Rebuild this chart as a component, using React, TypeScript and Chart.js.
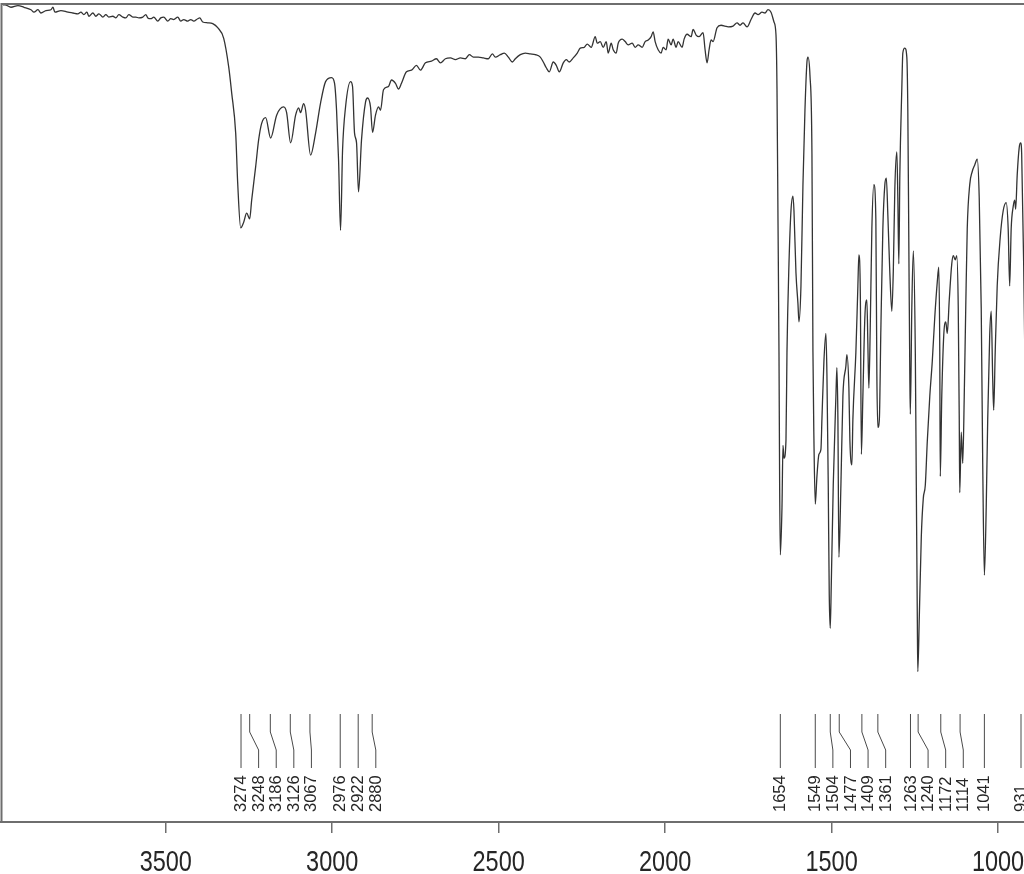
import { useEffect, useRef } from "react";
import { Chart, registerables } from "chart.js";

Chart.register(...registerables);

// Wavenumber (cm-1)
const WAVENUMBERS = [
  3989, 3983, 3965, 3944, 3926, 3905, 3896, 3884, 3875, 3860, 3845, 3839, 3833, 3815, 3794, 3779, 3764, 3755, 3746, 3737,
  3731, 3719, 3710, 3701, 3689, 3680, 3671, 3659, 3650, 3641, 3629, 3620, 3611, 3599, 3590, 3581, 3569, 3560, 3554, 3545,
  3536, 3524, 3515, 3506, 3494, 3485, 3476, 3464, 3455, 3446, 3434, 3425, 3416, 3404, 3398, 3389, 3374, 3359, 3344, 3326,
  3311, 3302, 3290, 3284, 3275, 3266, 3257, 3248, 3242, 3230, 3221, 3212, 3200, 3185, 3167, 3146, 3137, 3125, 3110, 3101,
  3095, 3086, 3080, 3065, 3050, 3035, 3020, 3002, 2993, 2987, 2981, 2975, 2969, 2960, 2945, 2939, 2933, 2927, 2921, 2912,
  2900, 2894, 2885, 2879, 2870, 2861, 2855, 2846, 2831, 2822, 2810, 2801, 2792, 2777, 2762, 2747, 2735, 2720, 2702, 2687,
  2675, 2660, 2645, 2630, 2615, 2600, 2588, 2576, 2561, 2546, 2531, 2519, 2510, 2495, 2483, 2471, 2459, 2450, 2435, 2420,
  2405, 2390, 2375, 2366, 2357, 2348, 2336, 2327, 2318, 2306, 2297, 2288, 2276, 2264, 2255, 2243, 2234, 2222, 2210, 2204,
  2195, 2186, 2177, 2171, 2162, 2156, 2147, 2141, 2129, 2120, 2111, 2099, 2090, 2081, 2069, 2060, 2051, 2042, 2036, 2030,
  2021, 2012, 2006, 1997, 1991, 1982, 1976, 1967, 1961, 1949, 1943, 1934, 1922, 1916, 1907, 1898, 1886, 1880, 1874, 1868,
  1862, 1856, 1844, 1832, 1820, 1811, 1796, 1784, 1775, 1766, 1754, 1742, 1730, 1721, 1709, 1700, 1691, 1682, 1673, 1667,
  1664, 1661, 1658, 1656, 1654, 1649, 1646, 1643, 1637, 1634, 1628, 1622, 1616, 1613, 1607, 1601, 1598, 1592, 1586, 1580,
  1574, 1571, 1565, 1559, 1556, 1553, 1549, 1544, 1538, 1532, 1529, 1523, 1517, 1514, 1510, 1507, 1504, 1501, 1495, 1487,
  1484, 1481, 1478, 1472, 1466, 1457, 1454, 1448, 1445, 1439, 1436, 1427, 1421, 1418, 1413.5, 1410.5, 1406, 1400, 1394, 1391,
  1388, 1384, 1379, 1373, 1367, 1364, 1361, 1356.5, 1352, 1346, 1340, 1335.5, 1331, 1325, 1319, 1314.5, 1310, 1304, 1301, 1298,
  1295, 1289, 1286, 1280, 1274, 1271, 1268, 1265, 1263.5, 1259, 1254.5, 1248.5, 1245.5, 1242.5, 1241, 1236.5, 1230.5, 1224.5, 1218.5, 1212.5,
  1205, 1197.5, 1190, 1182.5, 1178, 1175, 1173.5, 1169, 1163, 1157, 1152.5, 1146.5, 1139, 1134.5, 1128.5, 1124, 1119.5, 1116.5, 1115, 1110.5,
  1106, 1101.5, 1097, 1092.5, 1085, 1077.5, 1070, 1062.5, 1056.5, 1050.5, 1046, 1041, 1035.5, 1031, 1025, 1020.5, 1016, 1013, 1008.5, 1002.5,
  993.5, 984.5, 975.5, 969.5, 965, 960.5, 954.5, 950, 947, 942.5, 936.5, 932, 929, 923, 917
];

// Transmittance (%), same order as WAVENUMBERS
const TRANSMITTANCE = [
  100.0, 100.0, 99.7, 99.9, 99.7, 99.4, 99.1, 99.4, 99.0, 99.3, 99.4, 99.7, 99.1, 99.3, 99.1, 99.0, 98.9, 99.1, 98.8, 99.1,
  98.6, 99.0, 98.6, 98.9, 98.5, 98.8, 98.5, 98.6, 98.4, 98.8, 98.5, 98.4, 98.8, 98.5, 98.5, 98.4, 98.5, 98.8, 98.4, 98.3,
  98.5, 98.0, 98.4, 98.5, 98.0, 98.3, 98.2, 98.5, 98.0, 98.2, 98.0, 98.2, 98.0, 98.3, 98.4, 97.9, 97.8, 97.7, 97.2, 95.9,
  92.4, 89.2, 84.3, 78.2, 72.7, 73.4, 74.5, 73.8, 76.1, 80.2, 83.5, 85.5, 86.2, 83.7, 86.5, 87.5, 86.8, 83.1, 86.5, 87.4,
  86.8, 87.9, 87.1, 81.6, 84.3, 88.0, 90.6, 91.1, 90.4, 87.1, 81.0, 72.4, 82.2, 87.5, 90.6, 90.0, 84.3, 83.1, 77.1, 83.5,
  88.1, 88.6, 87.5, 84.4, 86.5, 87.5, 87.1, 89.6, 90.0, 90.8, 90.4, 89.7, 90.4, 91.8, 92.0, 92.6, 92.0, 92.9, 93.1, 93.4,
  92.9, 93.4, 93.5, 93.3, 93.5, 93.4, 93.9, 93.6, 93.6, 93.5, 93.4, 94.0, 93.6, 93.9, 94.1, 93.6, 93.0, 93.4, 93.9, 94.1,
  94.0, 93.9, 93.6, 93.0, 92.3, 91.8, 93.0, 92.6, 91.8, 92.9, 93.3, 93.0, 93.5, 94.1, 94.7, 94.8, 95.2, 94.8, 96.1, 95.3,
  95.5, 94.8, 95.5, 94.1, 95.3, 94.5, 94.1, 95.3, 95.8, 95.5, 95.1, 95.3, 94.8, 95.1, 94.8, 95.5, 95.7, 96.1, 96.7, 95.5,
  94.5, 94.1, 94.8, 94.5, 95.8, 95.1, 95.8, 94.8, 95.5, 94.8, 95.8, 96.4, 96.1, 97.0, 96.3, 96.1, 96.6, 94.5, 92.9, 94.5,
  95.7, 95.5, 97.2, 97.5, 97.4, 97.3, 97.4, 97.8, 97.5, 97.8, 97.3, 98.2, 99.0, 98.8, 99.1, 99.0, 99.4, 99.1, 97.9, 96.3,
  89.8, 73.7, 57.5, 41.2, 32.7, 38.5, 46.1, 44.5, 46.7, 57.5, 68.3, 74.8, 76.6, 74.8, 67.2, 63.4, 61.2, 65.6, 78.0, 87.1,
  93.0, 93.6, 91.4, 81.8, 57.5, 46.7, 38.9, 42.3, 45.0, 45.6, 49.3, 56.4, 59.8, 54.8, 41.2, 27.8, 23.7, 28.9, 41.2, 52.1,
  55.6, 49.3, 32.4, 41.2, 52.1, 55.8, 57.2, 53.1, 46.7, 43.7, 49.3, 57.5, 65.6, 69.4, 63.9, 45.0, 52.1, 61.8, 63.9, 58.5,
  53.1, 60.2, 72.6, 78.0, 73.7, 54.8, 48.3, 49.3, 60.2, 72.6, 78.0, 78.8, 74.3, 67.2, 62.5, 67.6, 77.5, 82.0, 76.4, 68.3,
  79.1, 89.8, 94.1, 94.7, 93.6, 87.1, 71.0, 54.8, 49.9, 62.9, 69.9, 57.5, 41.2, 25.1, 18.4, 25.1, 34.9, 39.6, 41.2, 46.6,
  52.1, 56.4, 61.8, 66.1, 67.9, 57.5, 42.3, 52.1, 59.6, 61.2, 59.8, 63.9, 68.3, 69.3, 68.8, 69.3, 62.9, 49.3, 40.3, 47.7,
  43.9, 52.1, 62.9, 72.6, 78.0, 79.6, 80.4, 81.1, 76.4, 62.9, 43.9, 30.2, 38.5, 49.3, 59.6, 62.5, 54.2, 50.4, 57.5, 65.6,
  71.5, 74.8, 75.8, 72.6, 65.6, 72.6, 75.3, 76.1, 75.0, 79.1, 82.5, 83.1, 81.8, 68.3, 49.2
];

// Peak annotations (cm-1)
const PEAK_LABELS = [
  3274, 3248, 3186, 3126, 3067, 2976, 2922, 2880,
  1654, 1549, 1504, 1477, 1409, 1361, 1263, 1240, 1172, 1114, 1041, 931
];

const X_TICKS = [3500, 3000, 2500, 2000, 1500, 1000];
const X_MIN = 922;
const X_MAX = 3995;

const FRAME_COLOR = "#6e6e6e";
const TEXT_COLOR = "#262626";

export default function App() {
  const canvasRef = useRef<HTMLCanvasElement | null>(null);

  useEffect(() => {
    document.body.style.margin = "0";
    document.body.style.overflow = "hidden";
    const canvas = canvasRef.current;
    if (!canvas) return;

    const peakPlugin = {
      id: "peakAnnotations",
      afterDraw(chart: any) {
        const { ctx, chartArea, scales } = chart;
        const xs = scales.x;
        ctx.save();

        // frame: left and top edges
        ctx.strokeStyle = FRAME_COLOR;
        ctx.lineWidth = 2;
        ctx.beginPath();
        ctx.moveTo(chartArea.left + 0.5, chartArea.bottom);
        ctx.lineTo(chartArea.left + 0.5, chartArea.top);
        ctx.lineTo(chartArea.right, chartArea.top);
        ctx.stroke();

        const b = chartArea.bottom;

        // x tick labels in a condensed face (tall, narrow digits)
        ctx.fillStyle = TEXT_COLOR;
        ctx.font = "29px 'Liberation Sans', Arial, sans-serif";
        ctx.textAlign = "center";
        ctx.textBaseline = "alphabetic";
        for (const t of xs.ticks) {
          const x = xs.getPixelForValue(t.value);
          ctx.save();
          ctx.translate(x, b + 49);
          ctx.scale(0.81, 1);
          ctx.fillText(String(t.value), 0, 0);
          ctx.restore();
        }

        // peak label layout
        const gap = 17.6;
        const items = PEAK_LABELS.map((v) => ({ v, px: xs.getPixelForValue(v) }))
          .sort((a, c) => a.px - c.px);
        let prev = -Infinity;
        const placed = items.map((it) => {
          const lx = Math.max(it.px, prev + gap);
          prev = lx;
          return { ...it, lx };
        });

        const yTop = b - 108;
        const yBend1 = b - 90;
        const yBend2 = b - 72;
        const yEnd = b - 54;
        const yText = b - 10;

        ctx.strokeStyle = "#4a4a4a";
        ctx.lineWidth = 1;
        for (const p of placed) {
          ctx.beginPath();
          ctx.moveTo(p.px, yTop);
          if (Math.abs(p.lx - p.px) > 0.5) {
            ctx.lineTo(p.px, yBend1);
            ctx.lineTo(p.lx, yBend2);
          }
          ctx.lineTo(p.lx, yEnd);
          ctx.stroke();
        }

        ctx.fillStyle = TEXT_COLOR;
        ctx.font = "16.5px 'Liberation Sans', Arial, sans-serif";
        ctx.textAlign = "left";
        ctx.textBaseline = "middle";
        for (const p of placed) {
          ctx.save();
          ctx.translate(p.lx + 0.5, yText);
          ctx.rotate(-Math.PI / 2);
          ctx.fillText(String(p.v), 0, 0);
          ctx.restore();
        }
        ctx.restore();
      },
    };

    const chart = new Chart(canvas, {
      type: "line",
      data: {
        datasets: [
          {
            data: WAVENUMBERS.map((x, i) => ({ x, y: TRANSMITTANCE[i] })),
            borderColor: "#333333",
            borderWidth: 1.3,
            pointRadius: 0,
            fill: false,
            cubicInterpolationMode: "monotone",
          },
        ],
      },
      options: {
        animation: false,
        responsive: false,
        maintainAspectRatio: false,
        layout: { padding: { left: 1, top: 4, right: 0, bottom: 0 } },
        plugins: {
          legend: { display: false },
          tooltip: { enabled: false },
        },
        scales: {
          x: {
            type: "linear",
            reverse: true,
            min: X_MIN,
            max: X_MAX,
            afterBuildTicks: (s: any) => {
              s.ticks = X_TICKS.map((value) => ({ value }));
            },
            afterFit: (s: any) => {
              s.height = 52;
              s.paddingLeft = 0;
              s.paddingRight = 0;
            },
            grid: {
              display: true,
              drawOnChartArea: false,
              drawTicks: true,
              tickLength: 11,
              color: FRAME_COLOR,
              lineWidth: 1.5,
            },
            border: { display: true, color: FRAME_COLOR, width: 2 },
            ticks: {
              display: false,
              autoSkip: false,
              maxRotation: 0,
            },
          },
          y: {
            type: "linear",
            display: false,
            min: 0,
            max: 100.1,
          },
        },
      },
      plugins: [peakPlugin],
    } as any);

    return () => chart.destroy();
  }, []);

  return (
    <div style={{ width: 1024, height: 874, background: "#ffffff" }}>
      <canvas ref={canvasRef} width={1024} height={874} style={{ display: "block" }} />
    </div>
  );
}
